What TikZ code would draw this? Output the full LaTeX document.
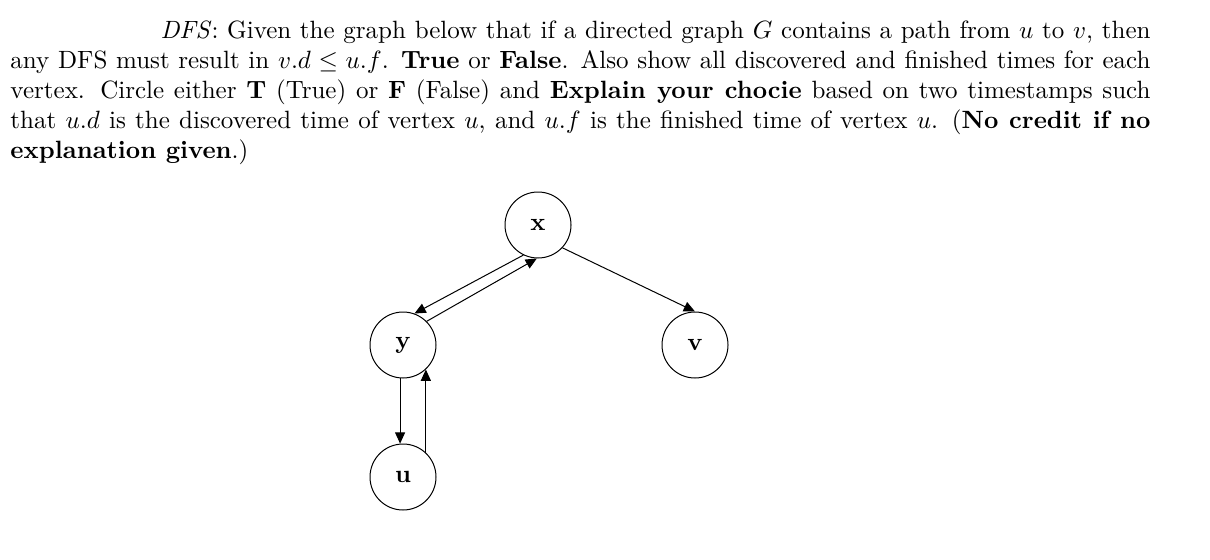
\documentclass[tikz,border=0pt]{standalone}
\usetikzlibrary{arrows.meta}
\begin{document}
\begin{tikzpicture}[x=0.4pt,y=-0.4pt,
  vtx/.style={circle,draw,minimum size=26.4pt,inner sep=0pt,font=\bfseries},
  arr/.style={-{Triangle[length=4.5pt,width=4pt]}}]
\useasboundingbox (0,0) rectangle (1210,559);
\node[anchor=north west,inner sep=0pt,text width=456pt,align=justify] (txt) at (10,20)
{\hspace*{60pt}\textit{DFS}: Given the graph below that if a directed graph $G$ contains a path from $u$ to $v$, then any DFS must result in $v.d \le u.f$. \textbf{True} or \textbf{False}. Also show all discovered and finished times for each vertex. Circle either \textbf{T} (True) or \textbf{F} (False) and \textbf{Explain your chocie} based on two timestamps such that $u.d$ is the discovered time of vertex $u$, and $u.f$ is the finished time of vertex $u$. (\textbf{No credit if no explanation given}.)};
\node[vtx] (x) at (538,225) {x};
\node[vtx] (y) at (403,345) {y};
\node[vtx] (v) at (695,345) {v};
\node[vtx] (u) at (403,477) {u};
\draw[arr] (x.244) -- (y.70);
\draw[arr] (y.45) -- (x.268);
\draw[arr] (x.-43) -- (v.90);
\draw[arr] (y.-95) -- (u.95);
\draw[arr] (u.47) -- (y.-47);
\end{tikzpicture}
\end{document}
